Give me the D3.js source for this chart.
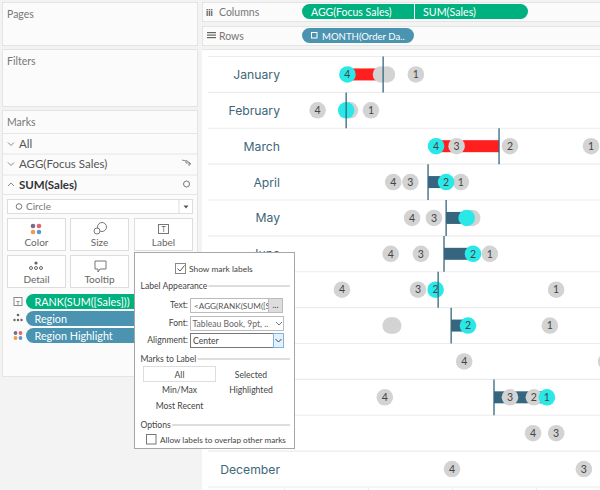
<!DOCTYPE html>
<html>
<head>
<meta charset="utf-8">
<script src="https://cdn.jsdelivr.net/npm/d3@7"></script>
<style>
  html, body { margin: 0; padding: 0; background: #f3f3f3; }
  svg { display: block; }
  text { font-family: Lato, sans-serif; }
</style>
</head>
<body>
<svg id="chart" width="600" height="490"></svg>
<script>
var months = ["January", "February", "March", "April", "May", "June", "July", "August", "September", "October", "November", "December"]
// July to November sit behind the label dialog
var shownMonths = ["January", "February", "March", "April", "May", "June", "December"]
// sales in $k. null = off the visible part of the axis
var rank4 = [15.1, 8.0, 36.2, 26.0, 30.5, 25.4, 13.8, 25.4, 42.9, 24.0, 59.3, 40.0]
var rank3 = [23.1, 15.7, 41.1, 30.1, 35.7, 32.6, 31.9, 26.0, 76.7, 53.8, 64.8, 71.4]
var rank2 = [24.5, 14.8, 53.8, 38.6, 43.5, 45.0, 36.1, 43.8, null, 59.5, null, null]
var rank1 = [31.4, 20.7, 73.1, 42.1, 44.8, 49.0, 64.8, 63.3, null, 62.6, null, null]
var focusRank = [4, 2, 4, 2, 2, 2, 2, 2, null, 1, null, null]
var reference = [23.6, 14.8, 51.2, 34.3, 38.6, 38.1, 36.7, 39.8, null, 50.0, null, null]
// labels Tableau dropped because they would overlap
var hiddenLabels = ["January-3", "January-2", "February-3", "February-2", "May-2", "May-1", "August-4", "August-3", "September-3"]
var axisTicks = [0, 20, 40, 60]

var rankSeries = { 4: rank4, 3: rank3, 2: rank2, 1: rank1 }
var svg = d3.select("#chart")

var x = d3.scaleLinear().domain([0, 20]).range([284, 368])
var y = d3.scaleBand().domain(months).range([56.5, 487])
var rowMid = function (m) { return y(m) + y.bandwidth() / 2 }

function box(g, bx, by, w, h, fill, stroke, rx) {
  return g.append("rect").attr("x", bx).attr("y", by).attr("width", w).attr("height", h)
    .attr("fill", fill).attr("stroke", stroke || "none").attr("rx", rx || 0)
}
function label(g, tx, ty, str, size, color, anchor, weight) {
  return g.append("text").attr("x", tx).attr("y", ty).text(str)
    .attr("font-size", size).attr("fill", color)
    .attr("text-anchor", anchor || "start").attr("font-weight", weight || 400)
}

// background panels
box(svg, 0, 0, 600, 490, "#f3f3f3")
box(svg, 2.5, 2.5, 195, 43, "#fbfbfb", "#e4e4e4")
box(svg, 2.5, 49.5, 195, 57, "#fbfbfb", "#e4e4e4")
box(svg, 2.5, 110.5, 195, 266, "#fbfbfb", "#e4e4e4")
box(svg, 202.5, 2.5, 400, 19, "#fbfbfb", "#e4e4e4")
box(svg, 202.5, 26.5, 400, 19, "#fbfbfb", "#e4e4e4")
box(svg, 202, 49, 398, 441, "#ffffff")
svg.append("line").attr("x1", 202).attr("x2", 600).attr("y1", 49.5).attr("y2", 49.5).attr("stroke", "#e4e4e4")

label(svg, 7, 17.5, "Pages", 10.5, "#777")
label(svg, 7, 65, "Filters", 10.5, "#777")
label(svg, 7, 126, "Marks", 10.5, "#777")

// shelves
label(svg, 206, 16, "iii", 9, "#555", "start", 700)
label(svg, 219, 16, "Columns", 10.5, "#777")
label(svg, 219, 40, "Rows", 10.5, "#777")
d3.range(3).forEach(function (i) {
  box(svg, 207, 32 + i * 2.5, 9, 1.2, "#666")
})
box(svg, 302, 4, 226, 15, "#00b180", null, 7.5)
svg.append("line").attr("x1", 414.5).attr("x2", 414.5).attr("y1", 4).attr("y2", 19).attr("stroke", "#fff")
label(svg, 311, 16, "AGG(Focus Sales)", 10.5, "#fff")
label(svg, 423, 16, "SUM(Sales)", 10.7, "#fff")
box(svg, 302, 28, 112, 15, "#4a93b1", null, 7.5)
box(svg, 311.5, 32.5, 5.5, 5.5, "none", "#fff")
label(svg, 322, 40, "MONTH(Order Da..", 9.6, "#fff")

// marks card rows
;[133, 153.5, 174.5, 194].forEach(function (ly) {
  svg.append("line").attr("x1", 3).attr("x2", 197).attr("y1", ly + .5).attr("y2", ly + .5).attr("stroke", "#e6e6e6")
})
label(svg, 19, 148, "All", 11.5, "#555")
label(svg, 19, 168, "AGG(Focus Sales)", 11.5, "#555")
label(svg, 19, 189, "SUM(Sales)", 11.5, "#333", "start", 700)
;[[11, 144], [11, 164]].forEach(function (p) {
  svg.append("path").attr("d", "M" + (p[0] - 3) + "," + (p[1] - 1.5) + "l3,3l3,-3").attr("fill", "none").attr("stroke", "#888")
})
svg.append("path").attr("d", "M8,186l3,-3l3,3").attr("fill", "none").attr("stroke", "#888")
svg.append("path").attr("d", "M182,160l4,1l0,2l4,0l0,2l-2,0m-2,-5l5,4").attr("fill", "none").attr("stroke", "#888")
svg.append("circle").attr("cx", 186.5).attr("cy", 184).attr("r", 3).attr("fill", "none").attr("stroke", "#777")

box(svg, 7.5, 199.5, 185, 14, "#fff", "#ddd")
svg.append("line").attr("x1", 179).attr("x2", 179).attr("y1", 200).attr("y2", 213).attr("stroke", "#ddd")
svg.append("path").attr("d", "M183.5,205.5h5l-2.5,3z").attr("fill", "#555")
svg.append("circle").attr("cx", 19).attr("cy", 206.5).attr("r", 2.8).attr("fill", "none").attr("stroke", "#777")
label(svg, 26, 210, "Circle", 10, "#777")

var cards = [["Color", 7.5, 218.5], ["Size", 70.5, 218.5], ["Label", 134.5, 218.5], ["Detail", 7.5, 255.5], ["Tooltip", 70.5, 255.5]]
cards.forEach(function (c) {
  box(svg, c[1], c[2], 58, 32, "#fff", "#ddd")
  label(svg, c[1] + 29, c[2] + 27, c[0], 10, "#666", "middle")
})
;[["#7c6b8d", 33, 226], ["#e8636f", 39, 226], ["#ef9a4d", 33, 232], ["#5f96cf", 39, 232]].forEach(function (d) {
  svg.append("circle").attr("cx", d[1]).attr("cy", d[2]).attr("r", 2.3).attr("fill", d[0])
})
svg.append("circle").attr("cx", 102).attr("cy", 227).attr("r", 4.5).attr("fill", "none").attr("stroke", "#777")
svg.append("circle").attr("cx", 97).attr("cy", 231).attr("r", 3).attr("fill", "#fff").attr("stroke", "#777")
box(svg, 158.5, 224.5, 10, 9, "#fff", "#777")
label(svg, 163.5, 232, "T", 7, "#666", "middle")
svg.append("circle").attr("cx", 36).attr("cy", 263).attr("r", 1.6).attr("fill", "#666")
;[31, 36, 41].forEach(function (cx) {
  svg.append("circle").attr("cx", cx).attr("cy", 268).attr("r", 1.5).attr("fill", "none").attr("stroke", "#666")
})
svg.append("path").attr("d", "M95,261h11v8h-6l-2,3v-3h-3z").attr("fill", "#fff").attr("stroke", "#777")

// chart area
var rows = svg.append("g")
y.domain().forEach(function (m) {
  rows.append("line").attr("x1", 208).attr("x2", 600).attr("y1", y(m)).attr("y2", y(m)).attr("stroke", "#ececec").attr("stroke-width", 1.2)
})
rows.append("line").attr("x1", 208).attr("x2", 600).attr("y1", 487).attr("y2", 487).attr("stroke", "#ececec").attr("stroke-width", 1.2)

var axis = svg.append("g").attr("transform", "translate(0,487)")
  .call(d3.axisBottom(x).tickValues(axisTicks).tickSize(3).tickFormat(""))
axis.select(".domain").remove()
axis.selectAll("line").attr("stroke", "#ececec")

svg.selectAll(".month").data(shownMonths).enter().append("text")
  .attr("class", "month")
  .attr("x", 280).attr("y", function (d) { return rowMid(d) + 4.5 })
  .attr("text-anchor", "end").attr("font-size", 12.2)
  .style("font-family", "Inter, sans-serif").style("font-weight", 400)
  .attr("fill", "#3d6678")
  .text(function (d) { return d })

// gap bars between the focus region and the reference
var focusRows = months.map(function (m, i) {
  return { month: m, ref: reference[i], focus: focusRank[i] ? rankSeries[focusRank[i]][i] : null }
}).filter(function (d) { return d.focus !== null })

svg.selectAll(".gap").data(focusRows).enter().append("rect")
  .attr("class", "gap")
  .attr("x", function (d) { return x(Math.min(d.ref, d.focus)) })
  .attr("width", function (d) { return Math.abs(x(d.ref) - x(d.focus)) })
  .attr("y", function (d) { return rowMid(d.month) - 6 })
  .attr("height", 12)
  .attr("fill", function (d) { return d.focus < d.ref ? "#ff1f1f" : "#35657f" })

// region circles
var points = []
months.forEach(function (m, i) {
  [4, 3, 2, 1].forEach(function (r) {
    var v = rankSeries[r][i]
    if (v !== null) points.push({ month: m, rank: r, value: v, isFocus: focusRank[i] === r })
  })
})
var grayPts = points.filter(function (d) { return !d.isFocus })
var focusPts = points.filter(function (d) { return d.isFocus })

svg.selectAll(".dot").data(grayPts.concat(focusPts)).enter().append("circle")
  .attr("class", "dot")
  .attr("cx", function (d) { return x(d.value) })
  .attr("cy", function (d) { return rowMid(d.month) })
  .attr("r", 8.3)
  .attr("fill", function (d) { return d.isFocus ? "#2be8e8" : "#d3d3d3" })

svg.selectAll(".rank").data(points.filter(function (d) {
  return hiddenLabels.indexOf(d.month + "-" + d.rank) < 0
})).enter().append("text")
  .attr("class", "rank")
  .attr("x", function (d) { return x(d.value) })
  .attr("y", function (d) { return rowMid(d.month) + 3.7 })
  .attr("text-anchor", "middle").attr("font-size", 10.5).attr("fill", "#444")
  .text(function (d) { return d.rank })

// reference lines
svg.selectAll(".ref").data(focusRows).enter().append("line")
  .attr("class", "ref")
  .attr("x1", function (d) { return x(d.ref) }).attr("x2", function (d) { return x(d.ref) })
  .attr("y1", function (d) { return y(d.month) }).attr("y2", function (d) { return y(d.month) + y.bandwidth() })
  .attr("stroke", "#35657f").attr("stroke-width", 1.3)

// pills under the dialog
var pills = [["RANK(SUM([Sales]))", 294, "#00b180"], ["Region", 311, "#4a93b1"], ["Region Highlight", 328, "#4a93b1"]]
pills.forEach(function (p) {
  box(svg, 26, p[1], 120, 15, p[2], null, 7.5)
  label(svg, 34.5, p[1] + 11.5, p[0], 10.8, "#fff")
})
box(svg, 14, 297.5, 8, 8, "#fff", "#888")
label(svg, 18, 304.5, "T", 6.5, "#666", "middle")
svg.append("circle").attr("cx", 18).attr("cy", 315).attr("r", 1.3).attr("fill", "#666")
;[14.5, 18, 21.5].forEach(function (cx) {
  svg.append("circle").attr("cx", cx).attr("cy", 320).attr("r", 1.2).attr("fill", "#666")
})
;[["#7c6b8d", 15.5, 333], ["#e8636f", 20.5, 333], ["#ef9a4d", 15.5, 338], ["#5f96cf", 20.5, 338]].forEach(function (d) {
  svg.append("circle").attr("cx", d[1]).attr("cy", d[2]).attr("r", 1.9).attr("fill", d[0])
})

// label dialog
var dlg = svg.append("g")
box(dlg, 134.5, 252.5, 160, 196, "#fff", "#a6a6a6")
box(dlg, 175.5, 263.5, 10, 10, "#fff", "#888")
dlg.append("path").attr("d", "M177.5,268.5l2.5,2.5l4.5,-5.5").attr("fill", "none").attr("stroke", "#555")
label(dlg, 189, 271.5, "Show mark labels", 8.4, "#444")

function heading(str, ly, lineStart) {
  label(dlg, 140.5, ly, str, 8.6, "#444")
  dlg.append("line").attr("x1", lineStart).attr("x2", 290).attr("y1", ly - 3).attr("y2", ly - 3).attr("stroke", "#bbb")
}
heading("Label Appearance", 289, 208.5)
heading("Marks to Label", 362, 197.5)
heading("Options", 428, 172)

label(dlg, 188, 308, "Text:", 8.6, "#444", "end")
label(dlg, 188, 326, "Font:", 8.6, "#444", "end")
label(dlg, 188, 343, "Alignment:", 8.6, "#444", "end")
box(dlg, 190.5, 298.5, 78, 14, "#fff", "#bbb")
label(dlg, 194, 308.5, "<AGG(RANK(SUM([S", 8.2, "#555")
box(dlg, 268.5, 298.5, 14, 14, "#ddd", "#bbb")
label(dlg, 275.5, 308, "...", 8.6, "#444", "middle")
box(dlg, 190.5, 316.5, 93, 14, "#fff", "#bbb")
label(dlg, 192.5, 326.5, "Tableau Book, 9pt, ..", 8.6, "#666")
dlg.append("path").attr("d", "M276,322l3,3l3,-3").attr("fill", "none").attr("stroke", "#777")
box(dlg, 190.5, 333.5, 93, 14, "#fff", "#777")
box(dlg, 273.5, 333.5, 10, 14, "#e3f1fb", "#7fb6e0")
label(dlg, 193, 344, "Center", 8.6, "#444")
dlg.append("path").attr("d", "M275.5,339l3,3l3,-3").attr("fill", "none").attr("stroke", "#446")

box(dlg, 143.5, 366.5, 72, 15, "#fff", "#ddd")
var options = [["All", 179.5, 377.5], ["Selected", 251, 377.5], ["Min/Max", 179.5, 393], ["Highlighted", 251, 393], ["Most Recent", 179.5, 408.5]]
options.forEach(function (o) { label(dlg, o[1], o[2], o[0], 8.6, "#444", "middle") })
box(dlg, 146.5, 434.5, 9.5, 9.5, "#fff", "#777")
label(dlg, 160, 442.5, "Allow labels to overlap other marks", 8.2, "#444")
</script>
</body>
</html>
